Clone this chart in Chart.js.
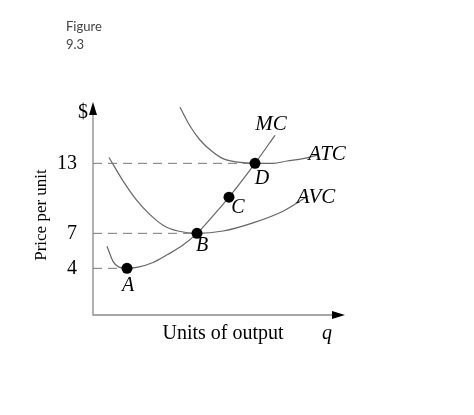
<!DOCTYPE html>
<html><head><meta charset="utf-8">
<script src="https://cdn.jsdelivr.net/npm/chart.js@4"></script>
<style>body{margin:0;background:#fff}#w{width:474px;height:415px;position:relative}</style>
</head><body><div id="w"><canvas id="c"></canvas></div>
<script>
const yTicks=[4,7,13];
const mcX=[1.4,2,2.6,3.4,4.5,6,7.5,9,10.4,12,13.6,16.2,18.2];
const mcY=[5.9,4.6,4.1,4,4.1,4.5,5.2,6,7,8.5,10.1,13,15.4];
const avcX=[1.6,3,4.4,5.7,7,8.5,10.4,13,16,19,21.5];
const avcY=[13.5,11.5,9.8,8.6,7.7,7.2,7,7.2,7.9,8.9,10.2];
const atcX=[8.7,9.7,10.7,11.8,13,14.5,16.2,18,19.4,21,22.4];
const atcY=[17.8,16.2,15,14.1,13.4,13.1,13,13,13.2,13.4,13.7];
const ptNames=['A','B','C','D'];
const ptX=[3.4,10.4,13.6,16.2];
const ptY=[4,7,10.1,13];
const curveNames=['MC','ATC','AVC'];
const curveLabelPos=[[17.8,16.3],[23.4,13.8],[22.3,10.1]];
const ptLabelOff=[[0.1,-1.5],[0.5,-1.1],[0.9,-0.9],[0.7,-1.3]];
const dashYs=[13,7,4], dashXs=[16.2,10.4,3.4];
const xy=(xs,ys)=>xs.map((x,i)=>({x,y:ys[i]}));
const line=(d)=>({type:'line',data:d,borderColor:'#666',borderWidth:1.2,pointRadius:0,tension:0.4,fill:false,cubicInterpolationMode:'monotone'});
const serif='"Liberation Serif","DejaVu Serif",serif';
const deco={id:'deco',afterDraw(ch){
 const c=ch.ctx,xs=ch.scales.x,ys=ch.scales.y;
 c.save();
 c.strokeStyle='#777';c.lineWidth=1;c.setLineDash([9,6]);
 dashYs.forEach((v,i)=>{c.beginPath();c.moveTo(xs.getPixelForValue(0),ys.getPixelForValue(v));c.lineTo(xs.getPixelForValue(dashXs[i]),ys.getPixelForValue(v));c.stroke();});
 c.setLineDash([]);
 const x0=xs.getPixelForValue(0),y0=ys.getPixelForValue(0),xe=xs.getPixelForValue(xs.max),ye=ys.getPixelForValue(ys.max);
 c.strokeStyle='#888';c.lineWidth=1.3;
 c.beginPath();c.moveTo(x0,ye);c.lineTo(x0,y0);c.lineTo(xe-6,y0);c.stroke();
 c.fillStyle='#000';
 c.beginPath();c.moveTo(x0,ye-3);c.lineTo(x0-4,ye+10);c.lineTo(x0+4,ye+10);c.fill();
 c.beginPath();c.moveTo(xe+2,y0);c.lineTo(xe-11,y0-4);c.lineTo(xe-11,y0+4);c.fill();
 ptX.forEach((x,i)=>{c.beginPath();c.arc(xs.getPixelForValue(x),ys.getPixelForValue(ptY[i]),5.5,0,7);c.fill();
  c.font='italic 20px '+serif;c.textAlign='center';c.textBaseline='middle';
  c.fillText(ptNames[i],xs.getPixelForValue(x+ptLabelOff[i][0]),ys.getPixelForValue(ptY[i]+ptLabelOff[i][1]));});
 c.font='italic 21px '+serif;c.textAlign='center';
 curveNames.forEach((n,i)=>c.fillText(n,xs.getPixelForValue(curveLabelPos[i][0]),ys.getPixelForValue(curveLabelPos[i][1])));
 c.font='20px '+serif;c.textAlign='center';
 c.fillText('$',x0-10,ye+8);
 c.fillText('Units of output',223,334);
 c.font='italic 20px '+serif;c.fillText('q',327,334);
 c.font='17px '+serif;c.translate(42,215);c.rotate(-Math.PI/2);c.fillText('Price per unit',0,0);
 c.restore();
 c.save();c.fillStyle='#444';c.font='13px Lato';c.textBaseline='middle';c.fillText('Figure',66,27);c.fillText('9.3',66,45);c.restore();
}};
new Chart(document.getElementById('c'),{
 data:{datasets:[line(xy(mcX,mcY)),line(xy(avcX,avcY)),line(xy(atcX,atcY))]},
 options:{responsive:true,maintainAspectRatio:false,animation:false,
  layout:{padding:{top:105,right:131,left:0,bottom:0}},
  plugins:{legend:{display:false},tooltip:{enabled:false}},
  scales:{
   x:{type:'linear',min:0,max:25,grid:{display:false},border:{display:false},ticks:{display:false},afterFit(s){s.height=100;}},
   y:{type:'linear',min:0,max:18,grid:{display:false},border:{display:false},
      afterBuildTicks(s){s.ticks=yTicks.map(v=>({value:v}));},
      ticks:{color:'#000',font:{family:serif,size:20},padding:8},afterFit(s){s.width=93;}}
  }},
 plugins:[deco]});
</script></body></html>
